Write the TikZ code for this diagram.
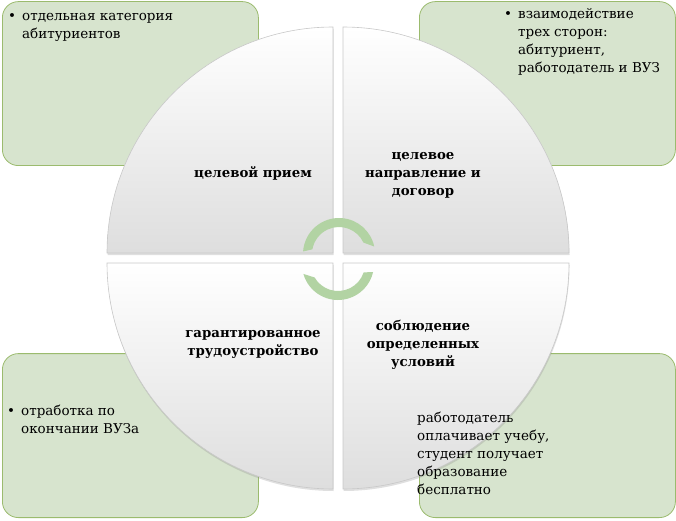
\documentclass[tikz,border=0pt]{standalone}
\usepackage{fontspec}
\setmainfont{DejaVu Serif}
\usetikzlibrary{shadows}
\definecolor{boxfill}{RGB}{215,228,206}
\definecolor{boxline}{RGB}{155,187,110}
\definecolor{arrowgreen}{RGB}{178,211,163}
\definecolor{quadline}{RGB}{200,200,200}
\begin{document}
\begin{tikzpicture}[x=1pt,y=1pt,
  cornerbox/.style={draw=boxline, fill=boxfill, line width=0.8pt, rounded corners=16pt,
    minimum width=256pt, minimum height=164pt, anchor=south west, inner sep=0pt},
  quadrant/.style={draw=quadline, line width=0.6pt, top color=white, bottom color=black!13,
    drop shadow={opacity=0.25, shadow xshift=0.5pt, shadow yshift=-2pt}},
  ctext/.style={font=\fontsize{13.3}{18}\selectfont\bfseries, align=center, inner sep=0pt},
  btext/.style={font=\fontsize{13.5}{18}\selectfont, align=left, inner sep=0pt, anchor=west},
  cyc/.style={fill=arrowgreen, draw=none}]
\useasboundingbox (0,0) rectangle (676,520);
% corner boxes
\node[cornerbox] (boxtl) at (2,354) {};
\node[cornerbox] (boxtr) at (419,354) {};
\node[cornerbox] (boxbl) at (2,2) {};
\node[cornerbox] (boxbr) at (419,2) {};
% circle quadrants
\path[quadrant] (333,267) -- (107,267) arc[start angle=180, end angle=90, radius=226] -- cycle;
\path[quadrant] (343,267) -- (343,493) arc[start angle=90, end angle=0, radius=226] -- cycle;
\path[quadrant] (333,257) -- (107,257) arc[start angle=180, end angle=270, radius=226] -- cycle;
\path[quadrant] (343,257) -- (569,257) arc[start angle=0, end angle=-90, radius=226] -- cycle;
% central cycle arrows
\fill[cyc, shift={(339,266)}] (176:36) arc[start angle=176, end angle=12, radius=36]
  -- (25:27) arc[start angle=25, end angle=170, radius=27] -- cycle;
\fill[cyc, shift={(338,256)}] (196:36) arc[start angle=196, end angle=347, radius=36]
  -- (342:27) arc[start angle=342, end angle=210, radius=27] -- cycle;
% quadrant texts
\node[ctext] (qtl) at (253,347) {целевой прием};
\node[ctext] (qtr) at (423,345) {целевое\\направление и\\договор};
\node[ctext] (qbl) at (253,176) {гарантированное\\трудоустройство};
\node[ctext] (qbr) at (423,175) {соблюдение\\определенных\\условий};
% box texts
\node[btext] (ttl) at (8,494) {\begin{tabular}{@{}l@{\hspace{6pt}}l@{}}•&отдельная категория\\&абитуриентов\end{tabular}};
\node[btext] (ttr) at (504,478) {\begin{tabular}{@{}l@{\hspace{6pt}}l@{}}•&взаимодействие\\&трех сторон:\\&абитуриент,\\&работодатель и ВУЗ\end{tabular}};
\node[btext] (tbl) at (7,99) {\begin{tabular}{@{}l@{\hspace{6pt}}l@{}}•&отработка по\\&окончании ВУЗа\end{tabular}};
\node[btext] (tbr) at (417,67) {работодатель\\оплачивает учебу,\\студент получает\\образование\\бесплатно};
\end{tikzpicture}
\end{document}
